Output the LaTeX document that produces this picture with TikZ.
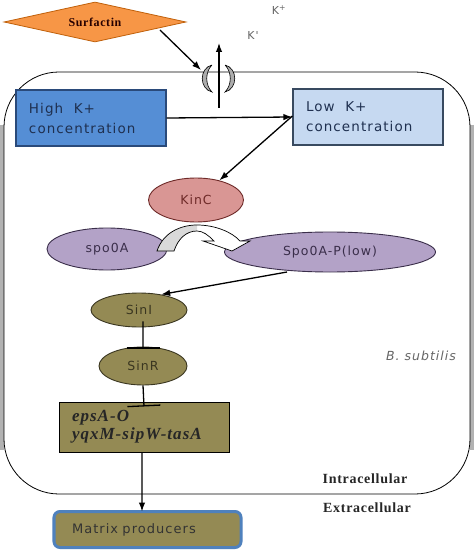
\documentclass[tikz,border=0pt]{standalone}
\usepackage{fontspec}
\usetikzlibrary{arrows.meta,shapes.geometric}
\newfontfamily\kfont[LetterSpace=8]{DejaVu Sans}
\newfontfamily\serifb[LetterSpace=5]{Liberation Serif}
\newfontfamily\serifc[LetterSpace=6]{Liberation Serif}
\definecolor{surf}{HTML}{F79646}
\definecolor{surfb}{HTML}{C0600A}
\definecolor{hib}{HTML}{558ED5}
\definecolor{hibd}{HTML}{2A4A7A}
\definecolor{lob}{HTML}{C6D9F1}
\definecolor{lobd}{HTML}{384A60}
\definecolor{kin}{HTML}{D99694}
\definecolor{kind}{HTML}{6E2A28}
\definecolor{lav}{HTML}{B3A2C7}
\definecolor{lavd}{HTML}{3A2E4A}
\definecolor{oli}{HTML}{948A54}
\definecolor{olid}{HTML}{3A3620}
\definecolor{navy}{HTML}{1F3050}
\definecolor{mblue}{HTML}{4F81BD}
\tikzset{
  ar/.style={-{Latex[length=9bp,width=6.5bp]},line width=1.3bp,black},
  inh/.style={-{Bar[width=33bp,line width=1.3bp]},line width=1.3bp,black},
  kbox/.style={draw,line width=1.2bp,text width=124bp,inner xsep=13bp,minimum height=56bp,align=left,inner ysep=0pt,
    font=\kfont\fontsize{13.5bp}{20bp}\selectfont},
  ell/.style={ellipse,draw,line width=0.9bp,inner sep=0pt,font=\kfont\fontsize{12.5bp}{15bp}\selectfont},
  cres/.style={fill=gray!65,draw=black,line width=0.6bp},
}
\begin{document}
\begin{tikzpicture}[x=1bp,y=-1bp]
\useasboundingbox (0,0) rectangle (474,550);
\fill[white] (0,0) rectangle (474,550);
% cell
\draw[gray!60,line width=3.5bp] (2,125) -- (2,450);
\draw[gray!60,line width=3.5bp] (472,125) -- (472,450);
\draw[line width=0.8bp,rounded corners=55bp] (4,72) rectangle (470,494);
% surfactin
\node[diamond,draw=surfb,fill=surf,line width=0.8bp,minimum width=182bp,minimum height=40bp,inner sep=0pt,aspect=4.5,
  font=\serifb\bfseries\fontsize{12bp}{13bp}\selectfont,text=black!75!red!60!black] (surf) at (95,22) {Surfactin};
% K labels
\node[text=gray!80!black,font=\kfont\fontsize{11bp}{13bp}\selectfont] (kp) at (279,10) {K\textsuperscript{+}};
\node[text=gray!80!black,font=\kfont\fontsize{11bp}{13bp}\selectfont] (kq) at (253,35) {K'};
% channel
\draw[cres] (212,65) .. controls (199,68) and (199,89) .. (212,92) .. controls (205,85) and (205,72) .. (212,65);
\draw[cres] (225,65) .. controls (238,68) and (238,89) .. (225,92) .. controls (232,85) and (232,72) .. (225,65);
\coordinate (chan) at (201,70);
\coordinate (cbot) at (219,108);
\coordinate (ctop) at (219,43);
\draw[ar] (cbot) -- (ctop);
\draw[ar] (160,30) -- (chan);
% K boxes
\node[kbox,fill=hib,draw=hibd,text=navy] (hi) at (91,118) {High\hspace{6bp} K+\\concentration};
\node[kbox,fill=lob,draw=lobd,text=navy] (lo) at (368,117) {Low\hspace{6bp} K+\\concentration};
\draw[ar] (hi.east) -- (lo.west);
% KinC etc
\node[ell,fill=kin,draw=kind,text=kind,minimum width=95bp,minimum height=44bp] (kinc) at (196,200) {KinC};
\node[ell,fill=lav,draw=lavd,text=lavd,minimum width=120bp,minimum height=42bp] (spo) at (107,249) {spo0A};
\node[ell,fill=lav,draw=lavd,text=lavd,minimum width=211bp,minimum height=40bp] (spop) at (330,252) {Spo0A-P(low)};
\draw[ar] ([yshift=1bp]lo.west) -- (kinc.40);
% block arc arrow
\def\blockarc{(157,251) .. controls (163,233) and (180,225) .. (197,225) .. controls (215,225) and (232,232) .. (240,241) -- (250,241) -- (232,251) -- (203,241) -- (214,241) .. controls (208,235) and (203,231) .. (197,231) .. controls (186,231) and (178,239) .. (174,251) -- cycle}
\fill[white] \blockarc;
\begin{scope}
\clip (150,215) rectangle (197,260);
\fill[gray!30] \blockarc;
\end{scope}
\draw[line width=0.7bp] \blockarc;
% Sin
\node[ell,fill=oli,draw=olid,text=olid,minimum width=96bp,minimum height=34bp] (sini) at (139,310) {SinI};
\node[ell,fill=oli,draw=olid,text=olid,minimum width=88bp,minimum height=38bp] (sinr) at (143,366) {SinR};
\draw[ar] (287,272) -- (sini.35);
\draw[inh] ([xshift=4bp,yshift=6bp]sini.south) -- ([yshift=-2bp]sinr.north);
\node[draw=black,line width=1bp,fill=oli,text width=144bp,inner xsep=13bp,minimum height=50bp,inner ysep=0pt,align=left,
  font=\serifc\bfseries\itshape\fontsize{17bp}{18bp}\selectfont,text=black!85] (eps) at (144,427)
  {epsA-O\\yqxM-sipW-tasA};
\draw[inh] (sinr.south) -- ([yshift=-5bp]eps.north);
% matrix
\node[draw=mblue,line width=3bp,fill=oli,rounded corners=6bp,text width=151bp,inner xsep=18bp,minimum height=36bp,inner ysep=0pt,
  align=left,font=\kfont\fontsize{13bp}{15bp}\selectfont,text=black!80] (mat) at (147.5,529.5) {Matrix producers};
\draw[ar] ([xshift=-2bp]eps.south) -- ([xshift=-5.5bp,yshift=-1.5bp]mat.north);
% labels
\node[font=\serifb\bfseries\fontsize{14bp}{16bp}\selectfont,text=black!85] (intra) at (365,479) {Intracellular};
\node[font=\serifb\bfseries\fontsize{14bp}{16bp}\selectfont,text=black!85] (extra) at (367,508) {Extracellular};
\node[font=\kfont\itshape\fontsize{12.5bp}{15bp}\selectfont,text=gray!80!black] (bs) at (421,356) {B. subtilis};
\end{tikzpicture}
\end{document}
